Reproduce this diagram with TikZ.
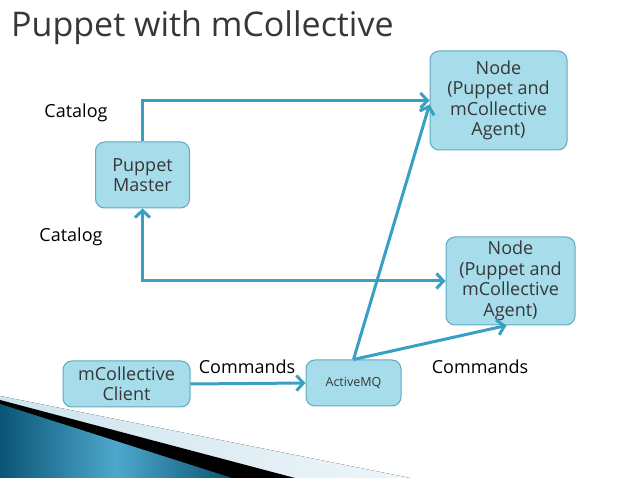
\documentclass[tikz,border=0pt]{standalone}
\usepackage{fontspec}
\setmainfont{Open Sans}
\usepackage{xcolor}
\usetikzlibrary{arrows.meta}
\usetikzlibrary{positioning}
\definecolor{boxfill}{RGB}{167,220,235}
\definecolor{boxline}{RGB}{95,168,192}
\definecolor{flow}{RGB}{55,160,195}
\definecolor{ink}{RGB}{55,55,55}
\definecolor{deepblue}{RGB}{10,85,118}
\definecolor{lightblue}{RGB}{78,168,204}
\definecolor{paleblue}{RGB}{205,228,238}
\tikzstyle{arrow} = [line width=3pt, flow, -{Straight Barb[length=7pt,width=15pt]}]
\tikzstyle{both} = [line width=3pt, flow, {Straight Barb[length=7pt,width=15pt]}-{Straight Barb[length=7pt,width=15pt]}]

\begin{document}
\begin{tikzpicture}[x=1pt, y=-1pt,
		box/.style = {rectangle, rounded corners=9pt, draw=boxline, line width=1pt, fill=boxfill, text=ink, align=center, inner sep=0pt, font=\fontsize{18}{20.5}\selectfont},
		lbl/.style = {text=black, inner sep=0pt, font=\fontsize{18}{20}\selectfont}]

		\useasboundingbox (0,0) rectangle (638,478);

		% Corner swoosh
		\fill[left color=paleblue, right color=paleblue!35] (0,396) -- (410,478) -- (0,478) -- cycle;
		\fill[black] (0,400) -- (295,478) -- (0,478) -- cycle;
		\fill[left color=deepblue, right color=deepblue, middle color=lightblue] (0,404) -- (232,478) -- (0,478) -- cycle;

		% Title
		\node[anchor=base west, inner sep=0pt, text=ink, font=\fontsize{34}{36}\selectfont] (title) at (11,37) {Puppet with mCollective};

		% Boxes
		\node[box, minimum width=94pt, minimum height=66pt] (pm) at (142.5,175) {Puppet\\Master};
		\node[box, minimum width=137pt, minimum height=99pt] (n1) at (498.5,100.5) {Node\\(Puppet and\\mCollective\\Agent)};
		\node[box, minimum width=129pt, minimum height=88pt] (n2) at (510.5,281) {Node\\(Puppet and\\mCollective\\Agent)};
		\node[box, minimum width=127pt, minimum height=46pt] (cl) at (126.5,384) {mCollective\\Client};
		\node[box, minimum width=95pt, minimum height=46pt, font=\fontsize{12.5}{14}\selectfont] (amq) at (353.5,383) {ActiveMQ};

		% Labels
		\node[lbl] (cat1) at (76,113) {Catalog};
		\node[lbl] (cat2) at (71,237) {Catalog};
		\node[lbl] (cmd1) at (247,367) {Commands};
		\node[lbl] (cmd2) at (480,367) {Commands};

		% Connectors
		\draw[arrow] (pm.north) |- (n1.west);
		\draw[both] (pm.south) |- (n2.west);
		\draw[arrow] (cl.east) -- (amq.west);
		\draw[arrow] (amq.north) -- ([yshift=-4pt]n1.west);
		\draw[arrow] (amq.north) -- ([xshift=-4pt]n2.south);
\end{tikzpicture}
\end{document}
